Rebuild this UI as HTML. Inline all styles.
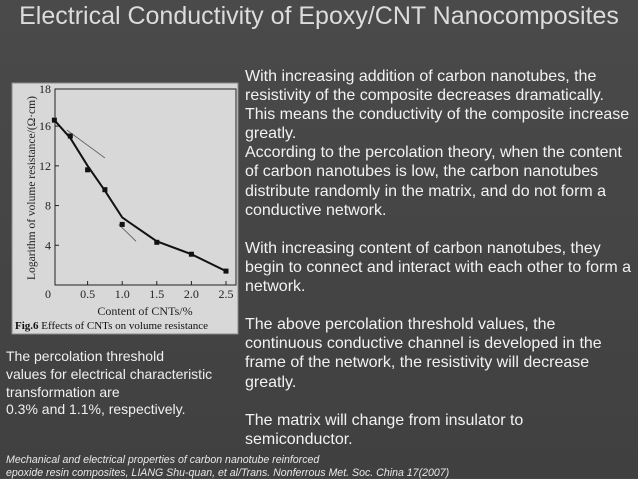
<!DOCTYPE html>
<html><head><meta charset="utf-8"><style>
body{margin:0;width:638px;height:478px;overflow:hidden;background:#464646;font-family:"Liberation Sans",sans-serif;color:#e6e6e6;position:relative}
.bg{position:absolute;inset:0;background:linear-gradient(#4a4a4a,#404040)}
#title{position:absolute;left:0;width:638px;top:2px;text-align:center;font-size:25px;color:#dcdcdc;white-space:nowrap}
#body{position:absolute;left:245px;top:67px;font-size:16px;line-height:19.1px;color:#f2f2f2;white-space:nowrap}
#left{position:absolute;left:6px;top:348px;font-size:14px;line-height:17.8px;color:#f0f0f0;white-space:nowrap}
#cite{position:absolute;left:6px;top:454px;font-size:10.6px;line-height:12.5px;font-style:italic;color:#e8e8e8;white-space:nowrap}
svg{position:absolute;left:0;top:0}
</style></head><body>
<div class="bg"></div>
<div id="title">Electrical Conductivity of Epoxy/CNT Nanocomposites</div>
<svg width="638" height="478" id="chart"></svg>
<div id="body">
With increasing addition of carbon nanotubes, the<br>
resistivity of the composite decreases dramatically.<br>
This means the conductivity of the composite increase<br>
greatly.<br>
According to the percolation theory, when the content<br>
of carbon nanotubes is low, the carbon nanotubes<br>
distribute randomly in the matrix, and do not form a<br>
conductive network.<br>
<br>
With increasing content of carbon nanotubes, they<br>
begin to connect and interact with each other to form a<br>
network.<br>
<br>
The above percolation threshold values, the<br>
continuous conductive channel is developed in the<br>
frame of the network, the resistivity will decrease<br>
greatly.<br>
<br>
The matrix will change from insulator to<br>
semiconductor.
</div>
<div id="left">The percolation threshold<br>values for electrical characteristic<br>transformation are<br>0.3% and 1.1%, respectively.</div>
<div id="cite">Mechanical and electrical properties of carbon nanotube reinforced<br>epoxide resin composites, LIANG Shu-quan, et al/Trans. Nonferrous Met. Soc. China 17(2007)</div>
<script>
const xValues=[0.02,0.25,0.5,0.75,1.0,1.5,2.0,2.5];
const yValues=[16.6,15.0,11.6,9.6,6.1,4.3,3.1,1.4];
const lineX=[0.02,0.25,0.5,0.75,1.0,1.5,2.0,2.5];
const lineY=[16.6,14.8,12.0,9.5,6.8,4.4,3.1,1.4];
const xTicks=[0.5,1.0,1.5,2.0,2.5];
const xTickLabels=["0.5","1.0","1.5","2.0","2.5"];
const yTicks=[4,8,12,16];
const yTickLabels=["4","8","12","16"];
const NS="http://www.w3.org/2000/svg";
const svg=document.getElementById('chart');
const X0=53,XS=69.2,Y0=285,YS=9.93;
const sx=v=>X0+v*XS, sy=v=>Y0-v*YS;
function mk(t,a,p){const e=document.createElementNS(NS,t);for(const k in a)e.setAttribute(k,a[k]);(p||svg).appendChild(e);return e;}
const panel=mk('rect',{x:12,y:83,width:226,height:251,fill:'#d8d8d8',stroke:'#8a8a8a'});


const plot=mk('rect',{x:55,y:89,width:181,height:196,fill:'none',stroke:'#222','stroke-width':1});


const tf='font-family:"Liberation Serif",serif;font-size:12px;fill:#222';
xTicks.forEach((v,i)=>{
 const t=mk('line',{x1:sx(v),x2:sx(v),y1:285,y2:281,stroke:'#222'});
 
 
 const l=mk('text',{x:sx(v),y:298,'text-anchor':'middle',style:tf});l.textContent=xTickLabels[i];
 
 
});
yTicks.forEach((v,i)=>{
 const t=mk('line',{x1:55,x2:59,y1:sy(v),y2:sy(v),stroke:'#222'});
 
 
 const l=mk('text',{x:51,y:sy(v)+4,'text-anchor':'end',style:tf});l.textContent=yTickLabels[i];
 
 
});
const l18=mk('text',{x:51,y:93,'text-anchor':'end',style:tf});l18.textContent='18';


const l0=mk('text',{x:51,y:298,'text-anchor':'end',style:tf});l0.textContent='0';


const xt=mk('text',{x:145,y:315,'text-anchor':'middle',style:tf});xt.textContent='Content of CNTs/%';


const yt=mk('text',{x:0,y:0,'text-anchor':'middle',transform:'translate(35,188) rotate(-90)',style:'font-family:"Liberation Serif",serif;font-size:11.5px;fill:#222'});yt.textContent='Logarithm of volume resistance/(Ω·cm)';


const cap=mk('text',{x:15,y:329,style:'font-family:"Liberation Serif",serif;font-size:11px;fill:#111'});
cap.innerHTML='<tspan font-weight="bold">Fig.6</tspan> Effects of CNTs on volume resistance';


const tan1=mk('line',{x1:sx(0.2),y1:sy(15.6),x2:sx(0.75),y2:sy(12.8),stroke:'#555','stroke-width':0.8});


const tan2=mk('line',{x1:sx(0.95),y1:sy(6.1),x2:sx(1.2),y2:sy(4.4),stroke:'#555','stroke-width':0.8});


const pl=mk('polyline',{points:lineX.map((x,i)=>sx(x)+','+sy(lineY[i])).join(' '),fill:'none',stroke:'#111','stroke-width':2});


xValues.forEach((x,i)=>{
 const m=mk('rect',{x:sx(x)-2.5,y:sy(yValues[i])-2.5,width:5,height:5,fill:'#111'});
 
 
});
</script>
</body></html>
